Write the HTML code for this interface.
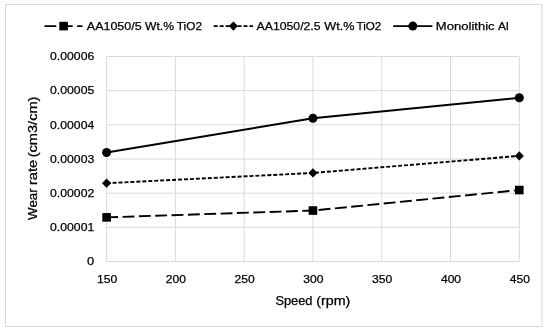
<!DOCTYPE html>
<html><head><meta charset="utf-8"><style>
html,body{margin:0;padding:0;background:#fff;}
svg{display:block;}
text{font-family:'Liberation Sans', Arial, sans-serif;fill:#000;stroke:#000;stroke-width:0.25px;}
</style></head><body>
<svg width="550" height="331" viewBox="0 0 550 331">
<rect width="550" height="331" fill="#fff"/>
<rect x="5.5" y="4.5" width="536.5" height="322" fill="#fff" stroke="#d9d9d9" stroke-width="1"/>
<line x1="106.6" y1="56.50" x2="519.3" y2="56.50" stroke="#d9d9d9" stroke-width="1"/>
<line x1="106.6" y1="90.67" x2="519.3" y2="90.67" stroke="#d9d9d9" stroke-width="1"/>
<line x1="106.6" y1="124.83" x2="519.3" y2="124.83" stroke="#d9d9d9" stroke-width="1"/>
<line x1="106.6" y1="159.00" x2="519.3" y2="159.00" stroke="#d9d9d9" stroke-width="1"/>
<line x1="106.6" y1="193.17" x2="519.3" y2="193.17" stroke="#d9d9d9" stroke-width="1"/>
<line x1="106.6" y1="227.33" x2="519.3" y2="227.33" stroke="#d9d9d9" stroke-width="1"/>
<line x1="106.6" y1="261.50" x2="519.3" y2="261.50" stroke="#d9d9d9" stroke-width="1"/>
<line x1="106.60" y1="56.5" x2="106.60" y2="261.5" stroke="#d9d9d9" stroke-width="1"/>
<line x1="175.38" y1="56.5" x2="175.38" y2="261.5" stroke="#d9d9d9" stroke-width="1"/>
<line x1="244.17" y1="56.5" x2="244.17" y2="261.5" stroke="#d9d9d9" stroke-width="1"/>
<line x1="312.95" y1="56.5" x2="312.95" y2="261.5" stroke="#d9d9d9" stroke-width="1"/>
<line x1="381.73" y1="56.5" x2="381.73" y2="261.5" stroke="#d9d9d9" stroke-width="1"/>
<line x1="450.52" y1="56.5" x2="450.52" y2="261.5" stroke="#d9d9d9" stroke-width="1"/>
<line x1="519.30" y1="56.5" x2="519.30" y2="261.5" stroke="#d9d9d9" stroke-width="1"/>
<text x="94.3" y="265.20" text-anchor="end" font-size="11.8" textLength="7.2" lengthAdjust="spacingAndGlyphs">0</text>
<text x="94.3" y="231.03" text-anchor="end" font-size="11.8" textLength="44.3" lengthAdjust="spacingAndGlyphs">0.00001</text>
<text x="94.3" y="196.87" text-anchor="end" font-size="11.8" textLength="44.3" lengthAdjust="spacingAndGlyphs">0.00002</text>
<text x="94.3" y="162.70" text-anchor="end" font-size="11.8" textLength="44.3" lengthAdjust="spacingAndGlyphs">0.00003</text>
<text x="94.3" y="128.53" text-anchor="end" font-size="11.8" textLength="44.3" lengthAdjust="spacingAndGlyphs">0.00004</text>
<text x="94.3" y="94.37" text-anchor="end" font-size="11.8" textLength="44.3" lengthAdjust="spacingAndGlyphs">0.00005</text>
<text x="94.3" y="60.20" text-anchor="end" font-size="11.8" textLength="44.3" lengthAdjust="spacingAndGlyphs">0.00006</text>
<text x="107.10" y="282.6" text-anchor="middle" font-size="11.6" textLength="20.2" lengthAdjust="spacingAndGlyphs">150</text>
<text x="175.88" y="282.6" text-anchor="middle" font-size="11.6" textLength="20.2" lengthAdjust="spacingAndGlyphs">200</text>
<text x="244.67" y="282.6" text-anchor="middle" font-size="11.6" textLength="20.2" lengthAdjust="spacingAndGlyphs">250</text>
<text x="313.45" y="282.6" text-anchor="middle" font-size="11.6" textLength="20.2" lengthAdjust="spacingAndGlyphs">300</text>
<text x="382.23" y="282.6" text-anchor="middle" font-size="11.6" textLength="20.2" lengthAdjust="spacingAndGlyphs">350</text>
<text x="451.02" y="282.6" text-anchor="middle" font-size="11.6" textLength="20.2" lengthAdjust="spacingAndGlyphs">400</text>
<text x="519.80" y="282.6" text-anchor="middle" font-size="11.6" textLength="20.2" lengthAdjust="spacingAndGlyphs">450</text>
<text x="275.44" y="305" font-size="12.6" textLength="37.06" lengthAdjust="spacingAndGlyphs">Speed</text>
<text x="316.24" y="305" font-size="12.6" textLength="34.12" lengthAdjust="spacingAndGlyphs">(rpm)</text>
<text transform="translate(36.9 0) rotate(-90)" x="-219.93" y="0" font-size="12.6" textLength="31.63" lengthAdjust="spacingAndGlyphs">Wear</text>
<text transform="translate(36.9 0) rotate(-90)" x="-185.05" y="0" font-size="12.6" textLength="25.28" lengthAdjust="spacingAndGlyphs">rate</text>
<text transform="translate(36.9 0) rotate(-90)" x="-157.28" y="0" font-size="12.6" textLength="60.66" lengthAdjust="spacingAndGlyphs">(cm3/cm)</text>
<path d="M106.60 217.38 L312.95 210.55 L519.30 190.05" fill="none" stroke="#000" stroke-width="1.9" stroke-dasharray="11.9 4.45" stroke-dashoffset="0.4"/>
<rect x="102.30" y="213.08" width="8.6" height="8.6" fill="#000"/>
<rect x="308.65" y="206.25" width="8.6" height="8.6" fill="#000"/>
<rect x="515.00" y="185.75" width="8.6" height="8.6" fill="#000"/>
<path d="M106.60 183.22 L312.95 172.97 L519.30 155.88" fill="none" stroke="#000" stroke-width="1.9" stroke-dasharray="4 1.96"/>
<path d="M106.60 178.62L111.20 183.22L106.60 187.82L102.00 183.22Z" fill="#000"/>
<path d="M312.95 168.37L317.55 172.97L312.95 177.57L308.35 172.97Z" fill="#000"/>
<path d="M519.30 151.28L523.90 155.88L519.30 160.48L514.70 155.88Z" fill="#000"/>
<path d="M106.60 152.47 L312.95 118.30 L519.30 97.80" fill="none" stroke="#000" stroke-width="1.9"/>
<circle cx="106.60" cy="152.47" r="4.5" fill="#000"/>
<circle cx="312.95" cy="118.30" r="4.5" fill="#000"/>
<circle cx="519.30" cy="97.80" r="4.5" fill="#000"/>
<line x1="44.4" y1="26.1" x2="82.5" y2="26.1" stroke="#000" stroke-width="1.9" stroke-dasharray="11.9 4.45"/>
<rect x="59.30" y="21.80" width="8.6" height="8.6" fill="#000"/>
<text x="86.8" y="29.55" font-size="11.7" textLength="54.9" lengthAdjust="spacingAndGlyphs">AA1050/5</text>
<text x="145.07" y="29.55" font-size="11.7" textLength="28.83" lengthAdjust="spacingAndGlyphs">Wt.%</text>
<text x="176.86" y="29.55" font-size="11.7" textLength="25.09" lengthAdjust="spacingAndGlyphs">TiO2</text>
<line x1="213.7" y1="26.1" x2="253.0" y2="26.1" stroke="#000" stroke-width="1.9" stroke-dasharray="4 1.96"/>
<path d="M233.40 21.50L238.00 26.10L233.40 30.70L228.80 26.10Z" fill="#000"/>
<text x="256.6" y="29.55" font-size="11.7" textLength="63.99" lengthAdjust="spacingAndGlyphs">AA1050/2.5</text>
<text x="324.37" y="29.55" font-size="11.7" textLength="30.16" lengthAdjust="spacingAndGlyphs">Wt.%</text>
<text x="356.57" y="29.55" font-size="11.7" textLength="24.78" lengthAdjust="spacingAndGlyphs">TiO2</text>
<line x1="393.2" y1="26.1" x2="432.4" y2="26.1" stroke="#000" stroke-width="1.9"/>
<circle cx="412.80" cy="26.10" r="4.5" fill="#000"/>
<text x="435.85" y="29.55" font-size="11.7" textLength="58.76" lengthAdjust="spacingAndGlyphs">Monolithic</text>
<text x="498.1" y="29.55" font-size="11.7" textLength="10.57" lengthAdjust="spacingAndGlyphs">Al</text>
</svg>
</body></html>
